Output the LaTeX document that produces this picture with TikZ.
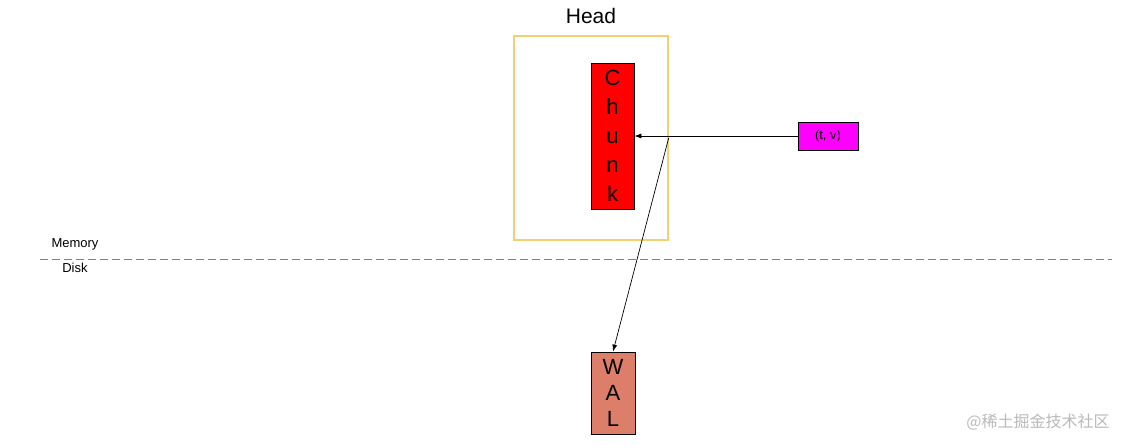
\documentclass[tikz,border=0pt]{standalone}
\usepackage{fontspec}
\setmainfont{Liberation Sans}
\newfontfamily\cjk{Noto Sans CJK SC}
\usetikzlibrary{arrows.meta}
\begin{document}
\begin{tikzpicture}[x=1pt,y=-1pt,
  box/.style={draw=black,line width=0.7pt,inner sep=0pt,align=center},
  arr/.style={-{Latex[length=7pt,width=5pt]},line width=0.7pt}]
\useasboundingbox (0,0) rectangle (1134,447);
\node[font=\fontsize{21}{24}\selectfont] (headlbl) at (591,16) {Head};
\node[draw={rgb,255:red,242;green,208;blue,115},line width=1.3pt,minimum width=154pt,minimum height=204pt] (head) at (591,138) {};
\node[box,fill=red,minimum width=43pt,minimum height=146pt,font=\fontsize{22}{29}\selectfont] (chunk) at (612.5,136) {C\\h\\u\\n\\k};
\node[box,fill={rgb,255:red,255;green,0;blue,255},minimum width=60pt,minimum height=28pt,font=\fontsize{13}{15}\selectfont] (tv) at (828,136) {(t, v)};
\node[box,fill={rgb,255:red,221;green,126;blue,107},minimum width=44pt,minimum height=82pt,font=\fontsize{22}{26}\selectfont] (wal) at (613,393) {W\\A\\L};
\coordinate (dl) at (40,259);
\coordinate (dr) at (1112,259);
\draw[gray,dash pattern=on 8pt off 4pt,line width=0.7pt] (dl) -- (dr);
\node[font=\fontsize{13}{15}\selectfont] (mem) at (75,244) {Memory};
\node[font=\fontsize{13}{15}\selectfont] (disk) at (75,268) {Disk};
\draw[arr] (tv.west) -- (chunk.east);
\draw[arr] (head.east) -- (wal.north);
\node[font=\cjk\fontsize{16}{18}\selectfont,text={rgb,255:red,185;green,185;blue,185}] (wm) at (1038,422) {@稀土掘金技术社区};
\end{tikzpicture}
\end{document}
